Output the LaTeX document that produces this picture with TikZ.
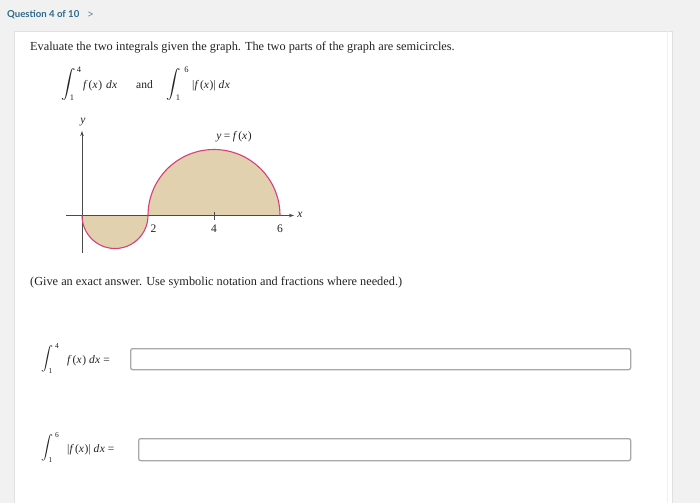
\documentclass[tikz,border=0pt]{standalone}
\usepackage{amsmath}
\usepackage{fontspec}
\setmainfont{Liberation Serif}
\newfontfamily\qfont{Lato}
\usetikzlibrary{arrows.meta}
\definecolor{pagebg}{HTML}{F1F1F1}
\definecolor{qteal}{HTML}{2F6A88}
\definecolor{txt}{HTML}{222222}
\definecolor{fillc}{HTML}{E2D1AF}
\definecolor{curvec}{HTML}{D6407A}
\definecolor{axisc}{HTML}{4A4A4A}
\definecolor{boxc}{HTML}{A8A8A8}
\newcommand\myfx{\textit{f}\kern1pt(\textit{x}\kern0.6pt)}
\newcommand\mydx{\textit{d}\kern0.3pt\textit{x}}
\tikzset{
  lbl/.style={inner sep=0pt, anchor=base west, text=txt, font=\fontsize{12.3}{14}\selectfont},
  expr/.style={inner sep=0pt, anchor=base west, text=txt, font=\fontsize{11.5}{13}\selectfont},
  lim/.style={inner sep=0pt, text=txt, font=\fontsize{8.5}{9}\selectfont},
  intsym/.style={inner sep=0pt, text=txt},
  ansbox/.style={draw=boxc, line width=1.3pt, rounded corners=2pt, fill=white},
  axisline/.style={draw=axisc, line width=0.8pt, -{Stealth[length=5pt,width=3.5pt]}},
  curve/.style={draw=curvec, line width=1.1pt},
  region/.style={fill=fillc},
  ticklbl/.style={inner sep=0pt, text=txt, font=\fontsize{11.5}{13}\selectfont}
}
\begin{document}
\begin{tikzpicture}[x=1pt,y=-1pt]
\useasboundingbox (0,0) rectangle (700,503);
\fill[pagebg] (0,0) rectangle (700,503);
% card
\fill[white] (14,31) rectangle (672,503);
\draw[black!12, line width=0.6pt] (14,503) -- (14,31) -- (672,31) -- (672,503);
\draw[black!6, line width=0.6pt] (667,31) -- (667,503);

% header
\node[inner sep=0pt, anchor=base west, text=qteal, font=\qfont\bfseries\fontsize{9.6}{11}\selectfont] (hdr) at (7,17.5) {Question 4 of 10};
\node[inner sep=0pt, anchor=base west, text=qteal!75, font=\qfont\fontsize{12}{12}\selectfont] (chev) at (87,18.5) {>};

% question text
\node[lbl] (q1) at (30,50) {Evaluate the two integrals given the graph. The two parts of the graph are semicircles.};

% integrals row
\node[intsym, font=\fontsize{14.5}{15}\selectfont] (i1) at (68.5,84) {$\displaystyle\int$};
\node[lim] (i1u) at (79,70) {4};
\node[lim] (i1l) at (72,98) {1};
\node[expr] (e1) at (83,88) {\myfx\hspace{4pt}\mydx};
\node[expr] (and) at (136,88) {and};
\node[intsym, font=\fontsize{14.5}{15}\selectfont] (i2) at (174,84) {$\displaystyle\int$};
\node[lim] (i2u) at (186.5,70) {6};
\node[lim] (i2l) at (178,98) {1};
\node[expr] (e2) at (192,88) {|\myfx|\hspace{3pt}\mydx};

% graph: origin (82,215.5), unit 33
\coordinate (O) at (82,215.5);
\coordinate (P2) at (148,215.5);
\coordinate (P6) at (280,215.5);
\fill[region] (O) arc[start angle=180, end angle=0, radius=33] -- cycle;
\fill[region] (P2) arc[start angle=180, end angle=360, radius=66] -- cycle;
\coordinate (xs) at (66,215.5);
\coordinate (xe) at (294,215.5);
\coordinate (ys) at (82,253);
\coordinate (ye) at (82,131);
\draw[axisline] (xs) -- (xe);
\draw[axisline] (ys) -- (ye);
\draw[axisc, line width=0.7pt] (214,211.5) -- (214,219.5);
\draw[curve] (O) arc[start angle=180, end angle=0, radius=33];
\draw[curve] (P2) arc[start angle=180, end angle=360, radius=66];
\node[ticklbl] (t2) at (153.5,228.5) {2};
\node[ticklbl] (t4) at (214,228.5) {4};
\node[ticklbl] (t6) at (280,228.5) {6};
\node[ticklbl, font=\itshape\fontsize{11.5}{13}\selectfont] (xl) at (300,214.5) {x};
\node[ticklbl, font=\itshape\fontsize{11.5}{13}\selectfont] (yl) at (83,122) {y};
\node[ticklbl, anchor=base] (fl) at (234,139.5) {\textit{y}\hspace{2.5pt}=\hspace{2.5pt}\myfx};

% instruction
\node[lbl] (q2) at (30,285) {(Give an exact answer. Use symbolic notation and fractions where needed.)};

% answer row 1
\node[intsym, font=\fontsize{12.5}{13}\selectfont] (a1) at (47,358.5) {$\displaystyle\int$};
\node[lim, font=\fontsize{7.5}{8}\selectfont] (a1u) at (57,346) {4};
\node[lim, font=\fontsize{7.5}{8}\selectfont] (a1l) at (50.5,371.5) {1};
\node[expr] (a1e) at (67,363) {\myfx\hspace{3pt}\mydx\hspace{3pt}=};
\node[ansbox, minimum width=500pt, minimum height=21pt, anchor=north west] (b1) at (130,348) {};

% answer row 2
\node[intsym, font=\fontsize{12.5}{13}\selectfont] (a2) at (47,447.5) {$\displaystyle\int$};
\node[lim, font=\fontsize{7.5}{8}\selectfont] (a2u) at (57,435) {6};
\node[lim, font=\fontsize{7.5}{8}\selectfont] (a2l) at (50.5,460.5) {1};
\node[expr] (a2e) at (67,452) {|\myfx|\hspace{3pt}\mydx\hspace{3pt}=};
\node[ansbox, minimum width=492pt, minimum height=22pt, anchor=north west] (b2) at (138,438) {};
\end{tikzpicture}
\end{document}
